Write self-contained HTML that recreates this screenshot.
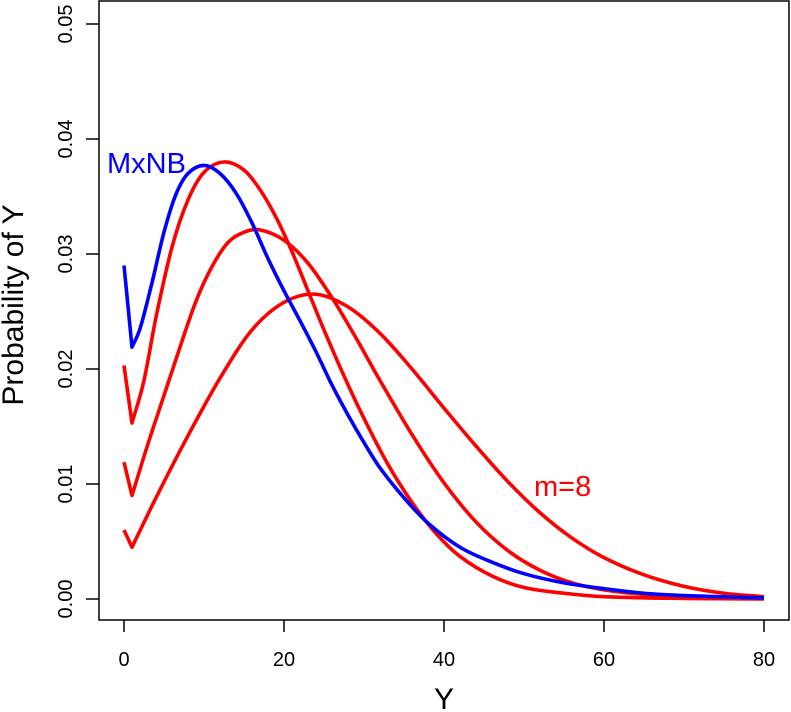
<!DOCTYPE html>
<html><head><meta charset="utf-8"><style>
html,body{margin:0;padding:0;background:#fff;}
svg{display:block;font-family:"Liberation Sans",Arial,sans-serif;}
</style></head><body>
<svg id="chart" width="791" height="712" viewBox="0 0 791 712" xmlns="http://www.w3.org/2000/svg">
<rect x="99" y="1" width="690" height="619" fill="none" stroke="#000" stroke-width="1.5"/>
<g id="axes"></g>
<g id="series"></g>
<text x="107" y="173" font-size="29" fill="#0000ff">MxNB</text>
<text x="534" y="496" font-size="29" fill="#ff0000">m=8</text>
<text x="444" y="709" font-size="30" text-anchor="middle">Y</text>
<text transform="translate(23,305) rotate(-90)" font-size="30" text-anchor="middle">Probability of Y</text>
</svg>
<script>
const xTicks = [0, 20, 40, 60, 80];
const yTicks = [0, 0.01, 0.02, 0.03, 0.04, 0.05];
const yTickLabels = ["0.00", "0.01", "0.02", "0.03", "0.04", "0.05"];
const blueX = [0,1,2,3.5,5,6.5,8,10,12,14,16,18,20,22,24,26,28,30,32,35,38,42,46,50,55,60,65,70,80];
const blueY = [0.029,0.0219,0.0235,0.0275,0.0319,0.0352,0.037,0.0377,0.037,0.0353,0.0327,0.0296,0.0268,0.0242,0.0215,0.0186,0.016,0.0136,0.0114,0.0088,0.0066,0.0045,0.0032,0.0022,0.0014,0.0009,0.0005,0.0003,0.0001];
const red1X = [0,1,2.5,4,6,8,10,12.5,15,17,19,21,23,25,27.5,30,33,36,39,42,46,50,55,60,70,80];
const red1Y = [0.0203,0.0153,0.019,0.0245,0.0306,0.0347,0.0371,0.038,0.0373,0.0356,0.0332,0.0302,0.0268,0.0234,0.0194,0.0157,0.0117,0.0084,0.0057,0.0037,0.002,0.001,0.0005,0.0002,0.00005,0];
const red2X = [0,1,3,5,7,9,11,13,15,17,20,23,26,29,32,36,40,44,48,52,56,60,65,70,80];
const red2Y = [0.0119,0.009,0.0135,0.0177,0.0219,0.0259,0.0289,0.031,0.0319,0.0321,0.0312,0.0292,0.0262,0.0227,0.019,0.0143,0.0101,0.0067,0.0042,0.0025,0.0014,0.0008,0.0004,0.0002,0.00005];
const red3X = [0,1,4,8,12,16,20,24,28,32,36,40,44,48,52,56,60,65,70,75,80];
const red3Y = [0.006,0.0045,0.0088,0.0142,0.0192,0.0234,0.0258,0.0265,0.0254,0.0231,0.02,0.0166,0.0133,0.0102,0.0075,0.0053,0.0036,0.0021,0.0011,0.0005,0.0002];

const NS = "http://www.w3.org/2000/svg";
const xs = v => 124 + v * 8;
const ys = v => 599 - v * 11500;
const axes = document.getElementById('axes');
function mk(tag, attrs, parent){const e=document.createElementNS(NS,tag);for(const k in attrs)e.setAttribute(k,attrs[k]);parent.appendChild(e);return e;}
xTicks.forEach(t=>{
  const l=mk('line',{x1:xs(t),x2:xs(t),y1:620,y2:632,stroke:'#000','stroke-width':1.5},axes);
  
  
  const tx=mk('text',{x:xs(t),y:666,'font-size':20,'text-anchor':'middle'},axes);
  tx.textContent=String(t);
  
  
});
yTicks.forEach((t,i)=>{
  const l=mk('line',{x1:86,x2:99,y1:ys(t),y2:ys(t),stroke:'#000','stroke-width':1.5},axes);
  
  
  const tx=mk('text',{transform:`translate(72,${ys(t)}) rotate(-90)`,'font-size':20,'text-anchor':'middle'},axes);
  tx.textContent=yTickLabels[i];
  
  
});
function smoothPath(X,Y){
  const p=X.map((x,i)=>[xs(x),ys(Y[i])]);
  const n=p.length;
  const m=new Array(n).fill(0);
  for(let i=2;i<n-1;i++){
    m[i]=(p[i+1][1]-p[i-1][1])/(p[i+1][0]-p[i-1][0]);
  }
  m[1]=(p[2][1]-p[1][1])/(p[2][0]-p[1][0]);
  m[n-1]=(p[n-1][1]-p[n-2][1])/(p[n-1][0]-p[n-2][0]);
  let d=`M${p[0][0]},${p[0][1]} L${p[1][0]},${p[1][1]}`;
  for(let i=1;i<n-1;i++){
    const dx=(p[i+1][0]-p[i][0])/3;
    d+=` C${p[i][0]+dx},${p[i][1]+m[i]*dx} ${p[i+1][0]-dx},${p[i+1][1]-m[i+1]*dx} ${p[i+1][0]},${p[i+1][1]}`;
  }
  return d;
}
const series=document.getElementById('series');
[[red1X,red1Y,'red-curve-1'],[red2X,red2Y,'red-curve-2'],[red3X,red3Y,'red-curve-m8'],[blueX,blueY,'mxnb-curve']].forEach(([X,Y,name])=>{
  const p=mk('path',{d:smoothPath(X,Y),fill:'none',stroke:name==='mxnb-curve'?'#0000ff':'#ff0000','stroke-width':3.6,'stroke-linejoin':'round'},series);
  
  
});
</script>
</body></html>
